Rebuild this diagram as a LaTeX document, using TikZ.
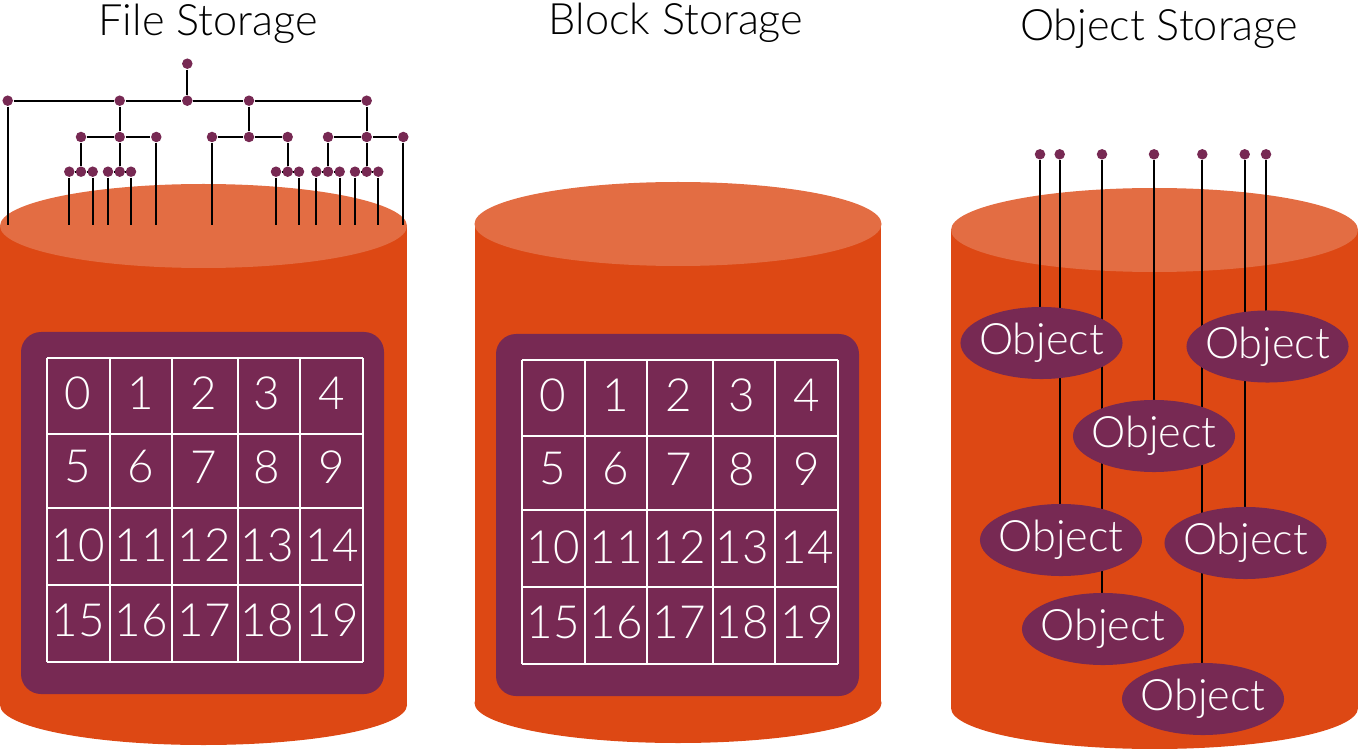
\documentclass[tikz,border=0pt]{standalone}
\usepackage{fontspec}
\setmainfont{Lato}[UprightFont=* Light]
\definecolor{orangebody}{HTML}{DD4814}
\definecolor{orangetop}{HTML}{E36D43}
\definecolor{aubergine}{HTML}{772953}
\pgfdeclarelayer{front}
\pgfsetlayers{main,front}
\tikzset{
	body/.style={fill=orangebody},
	lid/.style={fill=orangetop},
	panel/.style={fill=aubergine,rounded corners=0.2cm},
	gridline/.style={draw=white,line width=0.4pt},
	num/.style={text=white,font=\fontsize{13}{15}\selectfont,inner sep=0pt},
	title/.style={text=black,font=\fontsize{12.3}{14}\selectfont,inner sep=0pt},
	dot/.style={circle,fill=aubergine,minimum size=0.105cm,inner sep=0pt},
	wire/.style={draw=black,line width=0.6pt},
	obj/.style={ellipse,fill=aubergine,text=white,minimum width=1.62cm,minimum height=0.72cm,inner xsep=-0.06cm,inner ysep=-0.1cm,font=\fontsize{12.3}{15}\selectfont},
}
\usetikzlibrary{shapes.geometric}
\begin{document}
\begin{tikzpicture}[x=0.01cm,y=-0.01cm]
	\useasboundingbox (0,0) rectangle (1358,749);
	% objects sit above the wires
	\begin{pgfonlayer}{front}
		\node[obj] (o1) at (1041.5,343) {Object};
		\node[obj] (o2) at (1267.5,346.5) {Object};
		\node[obj] (o3) at (1154,436) {Object};
		\node[obj] (o4) at (1061,540) {Object};
		\node[obj] (o5) at (1245.5,543) {Object};
		\node[obj] (o6) at (1103,629) {Object};
		\node[obj] (o7) at (1203,699) {Object};
	\end{pgfonlayer}
	% titles
	\node[title] (tf) at (208,24) {File Storage};
	\node[title] (tb) at (676,23) {Block Storage};
	\node[title] (to) at (1159,29) {Object Storage};
	% file cylinder
	\fill[body] (203.5,705) ellipse [x radius=203.5,y radius=40];
	\fill[body] (0,226) rectangle (407,705);
	\fill[lid] (203.5,226) ellipse [x radius=203.5,y radius=42];
	\fill[panel] (21,332) rectangle (384,694);
	% block cylinder
	\fill[body] (678,703) ellipse [x radius=203.5,y radius=40];
	\fill[body] (475,224) rectangle (881,703);
	\fill[lid] (678,224) ellipse [x radius=203.5,y radius=42];
	\fill[panel] (496,334) rectangle (859,696);
	% object cylinder
	\fill[body] (1154.5,708) ellipse [x radius=203.5,y radius=41];
	\fill[body] (951,230) rectangle (1358,708);
	\fill[lid] (1154.5,230) ellipse [x radius=203.5,y radius=42];
	% file grid
	\draw[gridline] (47,358) -- (363,358);
	\draw[gridline] (47,434) -- (363,434);
	\draw[gridline] (47,508) -- (363,508);
	\draw[gridline] (47,585) -- (363,585);
	\draw[gridline] (47,662) -- (363,662);
	\draw[gridline] (47,358) -- (47,662);
	\draw[gridline] (110,358) -- (110,662);
	\draw[gridline] (172,358) -- (172,662);
	\draw[gridline] (238,358) -- (238,662);
	\draw[gridline] (300,358) -- (300,662);
	\draw[gridline] (363,358) -- (363,662);
	\node[num] (f0) at (78,393) {0};
	\node[num] (f1) at (141,393) {1};
	\node[num] (f2) at (204,393) {2};
	\node[num] (f3) at (267,393) {3};
	\node[num] (f4) at (332,393) {4};
	\node[num] (f5) at (78,467) {5};
	\node[num] (f6) at (141,467) {6};
	\node[num] (f7) at (204,467) {7};
	\node[num] (f8) at (267,467) {8};
	\node[num] (f9) at (332,467) {9};
	\node[num] (f10) at (78,545) {10};
	\node[num] (f11) at (141,545) {11};
	\node[num] (f12) at (204,545) {12};
	\node[num] (f13) at (267,545) {13};
	\node[num] (f14) at (332,545) {14};
	\node[num] (f15) at (78,620) {15};
	\node[num] (f16) at (141,620) {16};
	\node[num] (f17) at (204,620) {17};
	\node[num] (f18) at (267,620) {18};
	\node[num] (f19) at (332,620) {19};
	% block grid
	\draw[gridline] (522,360) -- (838,360);
	\draw[gridline] (522,436) -- (838,436);
	\draw[gridline] (522,510) -- (838,510);
	\draw[gridline] (522,587) -- (838,587);
	\draw[gridline] (522,664) -- (838,664);
	\draw[gridline] (522,360) -- (522,664);
	\draw[gridline] (585,360) -- (585,664);
	\draw[gridline] (647,360) -- (647,664);
	\draw[gridline] (713,360) -- (713,664);
	\draw[gridline] (775,360) -- (775,664);
	\draw[gridline] (838,360) -- (838,664);
	\node[num] (b0) at (553,395) {0};
	\node[num] (b1) at (616,395) {1};
	\node[num] (b2) at (679,395) {2};
	\node[num] (b3) at (742,395) {3};
	\node[num] (b4) at (807,395) {4};
	\node[num] (b5) at (553,469) {5};
	\node[num] (b6) at (616,469) {6};
	\node[num] (b7) at (679,469) {7};
	\node[num] (b8) at (742,469) {8};
	\node[num] (b9) at (807,469) {9};
	\node[num] (b10) at (553,547) {10};
	\node[num] (b11) at (616,547) {11};
	\node[num] (b12) at (679,547) {12};
	\node[num] (b13) at (742,547) {13};
	\node[num] (b14) at (807,547) {14};
	\node[num] (b15) at (553,622) {15};
	\node[num] (b16) at (616,622) {16};
	\node[num] (b17) at (679,622) {17};
	\node[num] (b18) at (742,622) {18};
	\node[num] (b19) at (807,622) {19};
	% file tree
	\node[dot] (root) at (187.3,63.7) {};
	\node[dot] (a1) at (7.7,100.7) {};
	\node[dot] (a2) at (119.7,100.7) {};
	\node[dot] (a3) at (187.3,100.7) {};
	\node[dot] (a4) at (249,100.7) {};
	\node[dot] (a5) at (366.7,100.7) {};
	\node[dot] (m1) at (81,137) {};
	\node[dot] (m2) at (119.7,137) {};
	\node[dot] (m3) at (156.3,137) {};
	\node[dot] (m4) at (212,137) {};
	\node[dot] (m5) at (249,137) {};
	\node[dot] (m6) at (287.7,137) {};
	\node[dot] (m7) at (328,137) {};
	\node[dot] (m8) at (366.7,137) {};
	\node[dot] (m9) at (403.3,137) {};
	\node[dot] (l1) at (69.3,171.7) {};
	\node[dot] (l2) at (81,171.7) {};
	\node[dot] (l3) at (92.7,171.7) {};
	\node[dot] (l4) at (108,171.7) {};
	\node[dot] (l5) at (119.7,171.7) {};
	\node[dot] (l6) at (131,171.7) {};
	\node[dot] (l7) at (276,171.7) {};
	\node[dot] (l8) at (287.7,171.7) {};
	\node[dot] (l9) at (299,171.7) {};
	\node[dot] (l10) at (316.3,171.7) {};
	\node[dot] (l11) at (328,171.7) {};
	\node[dot] (l12) at (339.7,171.7) {};
	\node[dot] (l13) at (355,171.7) {};
	\node[dot] (l14) at (366.7,171.7) {};
	\node[dot] (l15) at (378.3,171.7) {};
	\coordinate (base) at (0,224.7);
	\draw[wire] (root) -- (a3);
	\draw[wire] (a1) -- (a2);
	\draw[wire] (a2) -- (a3);
	\draw[wire] (a3) -- (a4);
	\draw[wire] (a4) -- (a5);
	\draw[wire] (a2) -- (m2);
	\draw[wire] (a4) -- (m5);
	\draw[wire] (a5) -- (m8);
	\draw[wire] (m1) -- (m2);
	\draw[wire] (m2) -- (m3);
	\draw[wire] (m4) -- (m5);
	\draw[wire] (m5) -- (m6);
	\draw[wire] (m7) -- (m8);
	\draw[wire] (m8) -- (m9);
	\draw[wire] (m1) -- (l2);
	\draw[wire] (m2) -- (l5);
	\draw[wire] (m6) -- (l8);
	\draw[wire] (m7) -- (l11);
	\draw[wire] (m8) -- (l14);
	\draw[wire] (l1) -- (l2);
	\draw[wire] (l2) -- (l3);
	\draw[wire] (l4) -- (l5);
	\draw[wire] (l5) -- (l6);
	\draw[wire] (l7) -- (l8);
	\draw[wire] (l8) -- (l9);
	\draw[wire] (l10) -- (l11);
	\draw[wire] (l11) -- (l12);
	\draw[wire] (l13) -- (l14);
	\draw[wire] (l14) -- (l15);
	% ends on the lid
	\draw[wire] (a1) -- (a1 |- base);
	\draw[wire] (m3) -- (m3 |- base);
	\draw[wire] (m4) -- (m4 |- base);
	\draw[wire] (m9) -- (m9 |- base);
	\draw[wire] (l1) -- (l1 |- base);
	\draw[wire] (l3) -- (l3 |- base);
	\draw[wire] (l4) -- (l4 |- base);
	\draw[wire] (l6) -- (l6 |- base);
	\draw[wire] (l7) -- (l7 |- base);
	\draw[wire] (l9) -- (l9 |- base);
	\draw[wire] (l10) -- (l10 |- base);
	\draw[wire] (l12) -- (l12 |- base);
	\draw[wire] (l13) -- (l13 |- base);
	\draw[wire] (l15) -- (l15 |- base);
	% object wires
	\node[dot] (d1) at (1040,154.3) {};
	\node[dot] (d2) at (1059.7,154.3) {};
	\node[dot] (d3) at (1102,154.3) {};
	\node[dot] (d4) at (1154,154.3) {};
	\node[dot] (d5) at (1202.3,154.3) {};
	\node[dot] (d6) at (1244.7,154.3) {};
	\node[dot] (d7) at (1266,154.3) {};
	\draw[wire] (d1) -- (d1 |- o1.center);
	\draw[wire] (d2) -- (d2 |- o4.center);
	\draw[wire] (d3) -- (d3 |- o6.center);
	\draw[wire] (d4) -- (d4 |- o3.center);
	\draw[wire] (d5) -- (d5 |- o7.center);
	\draw[wire] (d6) -- (d6 |- o5.center);
	\draw[wire] (d7) -- (d7 |- o2.center);
\end{tikzpicture}
\end{document}
